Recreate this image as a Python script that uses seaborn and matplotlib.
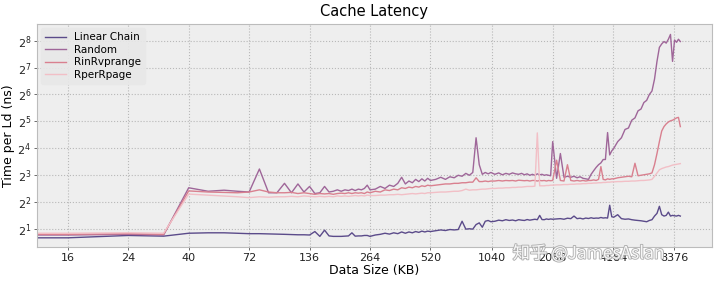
import numpy as np
import pandas as pd
import matplotlib
matplotlib.use("Agg")
import matplotlib.pyplot as plt
import seaborn as sns
from matplotlib import patheffects as pe

# ---------------- data ----------------
series_names = ["Linear Chain", "Random", "RinRvprange", "RperRpage"]

data_size_kb = [
    12, 16, 24, 32, 40, 48, 56, 64, 72, 80, 88, 96, 104, 112, 120, 128, 136,
    144, 152, 160, 168, 176, 184, 192, 200, 208, 216, 224, 232, 240, 248, 256, 264,
    280, 296, 312, 328, 344, 360, 376, 392, 408, 424, 440, 456, 472, 488, 504, 520,
    552, 584, 616, 648, 680, 712, 744, 776, 808, 840, 872, 904, 936, 968, 1000, 1032,
    1080, 1128, 1176, 1224, 1272, 1320, 1368, 1416, 1464, 1512, 1560, 1608, 1656,
    1704, 1752, 1800, 1848, 1896, 1944, 1992, 2040, 2088,
    2184, 2280, 2376, 2472, 2568, 2664, 2760, 2856, 2952, 3048, 3144, 3240, 3336,
    3432, 3528, 3624, 3720, 3816, 3912, 4008, 4104, 4200,
    4392, 4584, 4776, 4968, 5160, 5352, 5544, 5736, 5928, 6120, 6312, 6504, 6696,
    6888, 7080, 7272, 7464, 7656, 7848, 8040, 8232, 8424,
    8616, 8808, 9000,
]

linear_chain_ns = [
    1.6, 1.6, 1.7, 1.67, 1.8, 1.82, 1.82, 1.8, 1.78, 1.78, 1.77, 1.76, 1.75, 1.74, 1.73, 1.73, 1.72,
    1.88, 1.66, 1.95, 1.68, 1.66, 1.66, 1.66, 1.67, 1.68, 1.82, 1.67, 1.68, 1.68, 1.7, 1.7, 1.66,
    1.72, 1.75, 1.8, 1.76, 1.82, 1.78, 1.86, 1.8, 1.86, 1.82, 1.88, 1.84, 1.9, 1.86, 1.9, 1.88,
    1.92, 1.96, 1.93, 1.98, 1.96, 1.98, 2.45, 2.0, 2.02, 2.0, 2.25, 2.35, 2.1, 2.45, 2.5, 2.42,
    2.45, 2.52, 2.48, 2.55, 2.5, 2.53, 2.48, 2.55, 2.52, 2.5, 2.56, 2.52, 2.55,
    2.58, 2.55, 2.85, 2.56, 2.55, 2.6, 2.57, 2.6, 2.58,
    2.6, 2.62, 2.58, 2.65, 2.62, 2.8, 2.62, 2.65, 2.6, 2.66, 2.63, 2.68, 2.64,
    2.66, 2.65, 2.7, 2.66, 2.68, 2.66, 3.7, 2.75, 2.72,
    2.9, 2.62, 2.58, 2.6, 2.55, 2.52, 2.5, 2.48, 2.45, 2.42, 2.5, 2.55, 2.8,
    3.0, 3.6, 2.9, 2.8, 2.85, 3.1, 2.8, 2.85, 2.82,
    2.8, 2.85, 2.8,
]

random_ns = [
    1.72, 1.72, 1.75, 1.72, 5.8, 5.3, 5.45, 5.3, 5.2, 9.4, 5.1, 5.1, 6.5, 5.1, 6.4, 5.2, 6.0,
    5.0, 5.1, 6.0, 5.2, 5.3, 5.5, 5.3, 5.5, 5.4, 5.6, 5.4, 5.6, 5.5, 5.7, 6.2, 5.5,
    5.6, 6.0, 5.7, 6.2, 6.0, 6.5, 7.6, 6.4, 6.9, 6.6, 7.2, 6.8, 7.3, 6.9, 7.4, 7.0,
    7.2, 7.6, 7.2, 7.7, 7.5, 8.0, 7.8, 8.4, 8.0, 8.6, 21.0, 10.5, 8.2, 8.6, 8.3, 8.6,
    8.2, 8.5, 8.1, 8.4, 8.2, 8.5, 8.3, 8.2, 8.4, 8.1, 8.3, 8.0, 8.2,
    8.0, 8.3, 8.1, 8.2, 8.0, 8.1, 8.0, 7.9, 19.0,
    7.4, 14.0, 7.6, 7.8, 7.6, 7.8, 7.5, 7.7, 7.4, 7.3, 7.2, 8.2, 9.0,
    9.8, 10.5, 11.0, 12.0, 12.0, 24.0, 13.5, 15.0, 16.0,
    19, 21, 26, 27, 33, 35, 42, 44, 52, 55, 64, 70, 95,
    150, 215, 235, 250, 240, 265, 300, 150, 260,
    245, 265, 250,
]

rinrvprange_ns = [
    1.75, 1.75, 1.78, 1.75, 5.35, 5.2, 5.15, 5.1, 5.2, 5.5, 5.2, 5.1, 5.1, 5.15, 5.0, 5.1, 5.0,
    4.9, 5.0, 4.95, 5.0, 4.9, 5.0, 5.05, 5.0, 5.1, 5.0, 5.1, 5.05, 5.1, 5.0, 5.2, 5.1,
    5.3, 5.2, 5.5, 5.4, 5.6, 5.5, 5.8, 5.7, 5.9, 5.8, 6.0, 5.9, 6.1, 6.0, 6.2, 6.1,
    6.2, 6.3, 6.4, 6.4, 6.5, 6.5, 6.6, 6.6, 6.7, 6.7, 7.5, 6.8, 6.8, 6.9, 6.8, 6.9,
    6.9, 7.0, 6.9, 7.0, 6.95, 7.0, 6.9, 7.05, 7.0, 6.95, 7.0, 6.9, 7.0,
    7.0, 6.9, 7.0, 6.95, 7.0, 6.9, 7.0, 6.95, 7.0,
    11.8, 7.0, 6.9, 10.5, 7.0, 6.9, 7.0, 6.9, 7.0, 6.9, 7.0, 7.0, 7.1,
    7.0, 7.2, 10.0, 7.2, 7.1, 7.3, 7.2, 7.3, 7.3,
    7.5, 7.6, 7.7, 7.8, 7.7, 10.9, 7.9, 8.0, 8.1, 8.2, 8.3, 8.5, 10.5,
    14, 19, 25, 28, 30, 31.5, 32.5, 33, 34,
    35, 35.5, 28,
]

rperrpage_ns = [
    1.8, 1.8, 1.82, 1.8, 4.93, 4.8, 4.7, 4.6, 4.5, 4.6, 4.55, 4.6, 4.6, 4.65, 4.6, 4.7, 4.65,
    4.6, 4.65, 4.6, 4.65, 4.6, 4.7, 4.65, 4.7, 4.65, 4.7, 4.75, 4.7, 4.75, 4.7, 4.8, 4.75,
    4.75, 4.8, 4.8, 4.85, 4.85, 4.9, 4.85, 4.9, 4.95, 5.0, 4.95, 5.0, 5.05, 5.0, 5.1, 5.1,
    5.15, 5.2, 5.2, 5.25, 5.3, 5.3, 5.4, 5.6, 5.45, 5.5, 5.5, 5.55, 5.6, 5.6, 5.65, 5.7,
    5.7, 5.75, 5.75, 5.8, 5.8, 5.85, 5.85, 5.9, 5.9, 5.95, 6.0, 6.0, 6.0,
    6.05, 23.8, 6.1, 6.1, 6.1, 6.15, 6.15, 6.2, 6.2,
    6.25, 6.25, 6.3, 6.3, 6.35, 6.35, 6.4, 6.4, 6.45, 6.45, 6.5, 6.5, 6.55,
    6.55, 6.6, 6.6, 6.65, 6.65, 6.7, 6.7, 6.75, 6.75,
    6.8, 6.8, 6.85, 6.85, 6.9, 6.9, 6.95, 7.0, 7.0, 7.05, 7.1, 7.2, 7.8,
    8.5, 9.2, 9.5, 9.7, 9.9, 10.0, 10.2, 10.4, 10.5,
    10.6, 10.7, 10.8,
]

x_tick_values = [16, 24, 40, 72, 136, 264, 520, 1040, 2088, 4184, 8376]
x_tick_labels = ["16", "24", "40", "72", "136", "264", "520", "1040", "2088", "4184", "8376"]

series_colors = ["#5b4b8a", "#9f6699", "#d9808f", "#f2bfc6"]

# ---------------- style ----------------
plt.rcParams.update({
    "axes.facecolor": "#eeeeee",
    "axes.edgecolor": "#bcbcbc",
    "axes.linewidth": 0.8,
    "axes.grid": True,
    "grid.color": "#b8b8b8",
    "grid.linestyle": ":",
    "grid.linewidth": 0.8,
    "xtick.direction": "out",
    "ytick.direction": "out",
    "xtick.color": "#555555",
    "ytick.color": "#555555",
    "xtick.labelcolor": "#222222",
    "ytick.labelcolor": "#222222",
    "font.family": ["DejaVu Sans"],
})

frames = []
for name, vals in zip(series_names,
                      [linear_chain_ns, random_ns, rinrvprange_ns, rperrpage_ns]):
    frames.append(pd.DataFrame({"size": data_size_kb, "ns": vals, "series": name}))
df = pd.concat(frames, ignore_index=True)

fig, ax = plt.subplots(figsize=(7.2, 2.85), dpi=100)
fig.subplots_adjust(left=0.051, right=0.989, bottom=0.133, top=0.916)

sns.lineplot(data=df, x="size", y="ns", hue="series", hue_order=series_names,
             palette=series_colors, linewidth=1.0, estimator=None, ax=ax)


def fwd(x):
    x = np.asarray(x, dtype=float)
    with np.errstate(all="ignore"):
        return np.log2(np.where(x > 8.0001, x - 8.0, 1e-4))


def inv(u):
    return np.power(2.0, np.asarray(u, dtype=float)) + 8.0


ax.set_xscale("function", functions=(fwd, inv))
ax.set_yscale("log", base=2)
ax.set_xlim(13.6, 12950)
ax.set_ylim(1.26, 393)
ax.set_xticks(x_tick_values)
ax.set_xticklabels(x_tick_labels)
ax.minorticks_off()
ax.tick_params(labelsize=8, length=2.5, width=0.6, pad=1.5)
ax.grid(True, which="major")
ax.set_axisbelow(True)

ax.set_title("Cache Latency", fontsize=10.5)
ax.set_xlabel("Data Size (KB)", fontsize=9, labelpad=1)
ax.set_ylabel("Time per Ld (ns)", fontsize=9)
ax.yaxis.set_label_coords(-0.032, 0.5)

handles, labels = ax.get_legend_handles_labels()
leg = ax.legend(handles, labels, loc="upper left", fontsize=7.5, frameon=True,
                facecolor="#e8e8e8", edgecolor="#e8e8e8", framealpha=0.9,
                borderaxespad=0.4, handlelength=2.0, labelspacing=0.25)
for line in leg.get_lines():
    line.set_linewidth(1.0)

fig.text(0.712, 0.11, "知乎 @JamesAslan", fontsize=12.5, color="white", alpha=0.9,
         ha="left", va="center", family=["Noto Sans CJK SC", "DejaVu Sans"],
         path_effects=[pe.withStroke(linewidth=1.3, foreground="#a8a8a8")])

fig.savefig("out.png", dpi=100)
